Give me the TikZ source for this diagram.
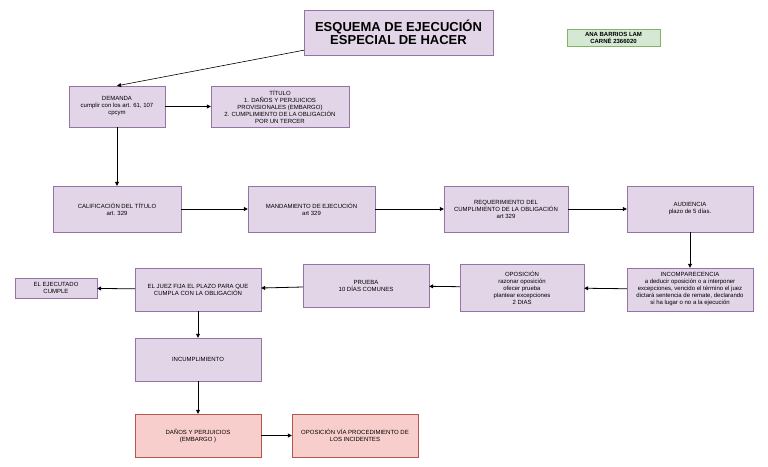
\documentclass[tikz,border=0pt]{standalone}
\usepackage{fontspec}
\setmainfont{Liberation Sans}
\usetikzlibrary{arrows.meta}
\definecolor{pfill}{HTML}{E1D5E7}
\definecolor{pdraw}{HTML}{9673A6}
\definecolor{rfill}{HTML}{F8CECC}
\definecolor{rdraw}{HTML}{B85450}
\definecolor{gfill}{HTML}{D5E8D4}
\definecolor{gdraw}{HTML}{82B366}
\begin{document}
\begin{tikzpicture}[x=1pt,y=-1pt,
 box/.style={draw=pdraw,fill=pfill,align=center,font=\fontsize{6}{7}\selectfont,inner sep=1pt},
 red/.style={box,draw=rdraw,fill=rfill},
 arr/.style={-{Triangle[length=4pt,width=4pt]},line width=0.8pt}]
\useasboundingbox (0,0) rectangle (768,466);
\newcommand\bx[7][box]{\node[#1,minimum width=#4-#2,minimum height=#5-#3] (#6) at ({(#2+#4)/2},{(#3+#5)/2}) {#7};}
\bx{304}{10}{493}{55}{t}{\fontsize{13}{15}\selectfont\bfseries ESQUEMA DE EJECUCIÓN\\\fontsize{13}{15}\selectfont\bfseries ESPECIAL DE HACER}
\bx[box,draw=gdraw,fill=gfill]{567}{29}{660}{46}{n}{\bfseries ANA BARRIOS LAM\\\bfseries CARNÉ 2366020}
\bx{69}{86}{165}{127}{d}{DEMANDA\\cumplir con los art. 61, 107\\cpcym}
\bx{211}{86}{349}{127}{ti}{TÍTULO\\1. DAÑOS Y PERJUICIOS\\PROVISIONALES (EMBARGO)\\2. CUMPLIMIENTO DE LA OBLIGACIÓN\\POR UN TERCER}
\bx{53}{186}{181}{232}{c}{CALIFICACIÓN DEL TÍTULO\\art. 329}
\bx{248}{186}{375}{232}{m}{MANDAMIENTO DE EJECUCIÓN\\art 329}
\bx{444}{186}{568}{232}{r}{REQUERIMIENTO DEL\\CUMPLIMIENTO DE LA OBLIGACIÓN\\art 329}
\bx{627}{186}{753}{232}{a}{AUDIENCIA\\plazo de 5 días.}
\bx{627}{268}{753}{311}{i}{INCOMPARECENCIA\\a deducir oposición o a interponer\\excepciones, vencido el término el juez\\dictará sentencia de remate, declarando\\si ha lugar o no a la ejecución}
\bx{460}{264}{584}{311}{o}{OPOSICIÓN\\razonar oposición\\ofecer prueba\\plantear excepciones\\2 DIAS}
\bx{303}{264}{429}{307}{p}{PRUEBA\\10 DÍAS COMUNES}
\bx{135}{268}{261}{311}{j}{EL JUEZ FIJA EL PLAZO PARA QUE\\CUMPLA CON LA OBLIGACIÓN}
\bx{15}{278}{97}{298}{e}{EL EJECUTADO\\CUMPLE}
\bx{135}{338}{261}{381}{u}{INCUMPLIMIENTO}
\bx[red]{135}{414}{261}{457}{dp}{DAÑOS Y PERJUICIOS\\(EMBARGO )}
\bx[red]{292}{414}{418}{457}{ov}{OPOSICIÓN VÍA PROCEDIMIENTO DE\\LOS INCIDENTES}
\draw[arr,line width=0.6pt] (t.south west) ++(0,-5) -- (d.north);
\draw[arr] (d) -- (ti);
\draw[arr,line width=0.5pt] (d) -- (c);
\draw[arr] (c) -- (m);
\draw[arr] (m) -- (r);
\draw[arr] (r) -- (a);
\draw[arr] (a.south -| 690,0) -- (i.north -| 690,0);
\draw[arr] (i) -- (o);
\draw[arr] (o) -- (p);
\draw[arr] (p) -- (j);
\draw[arr] (j) -- (e);
\draw[arr] (j) -- (u);
\draw[arr] (u) -- (dp);
\draw[arr] (dp) -- (ov);
\end{tikzpicture}
\end{document}
